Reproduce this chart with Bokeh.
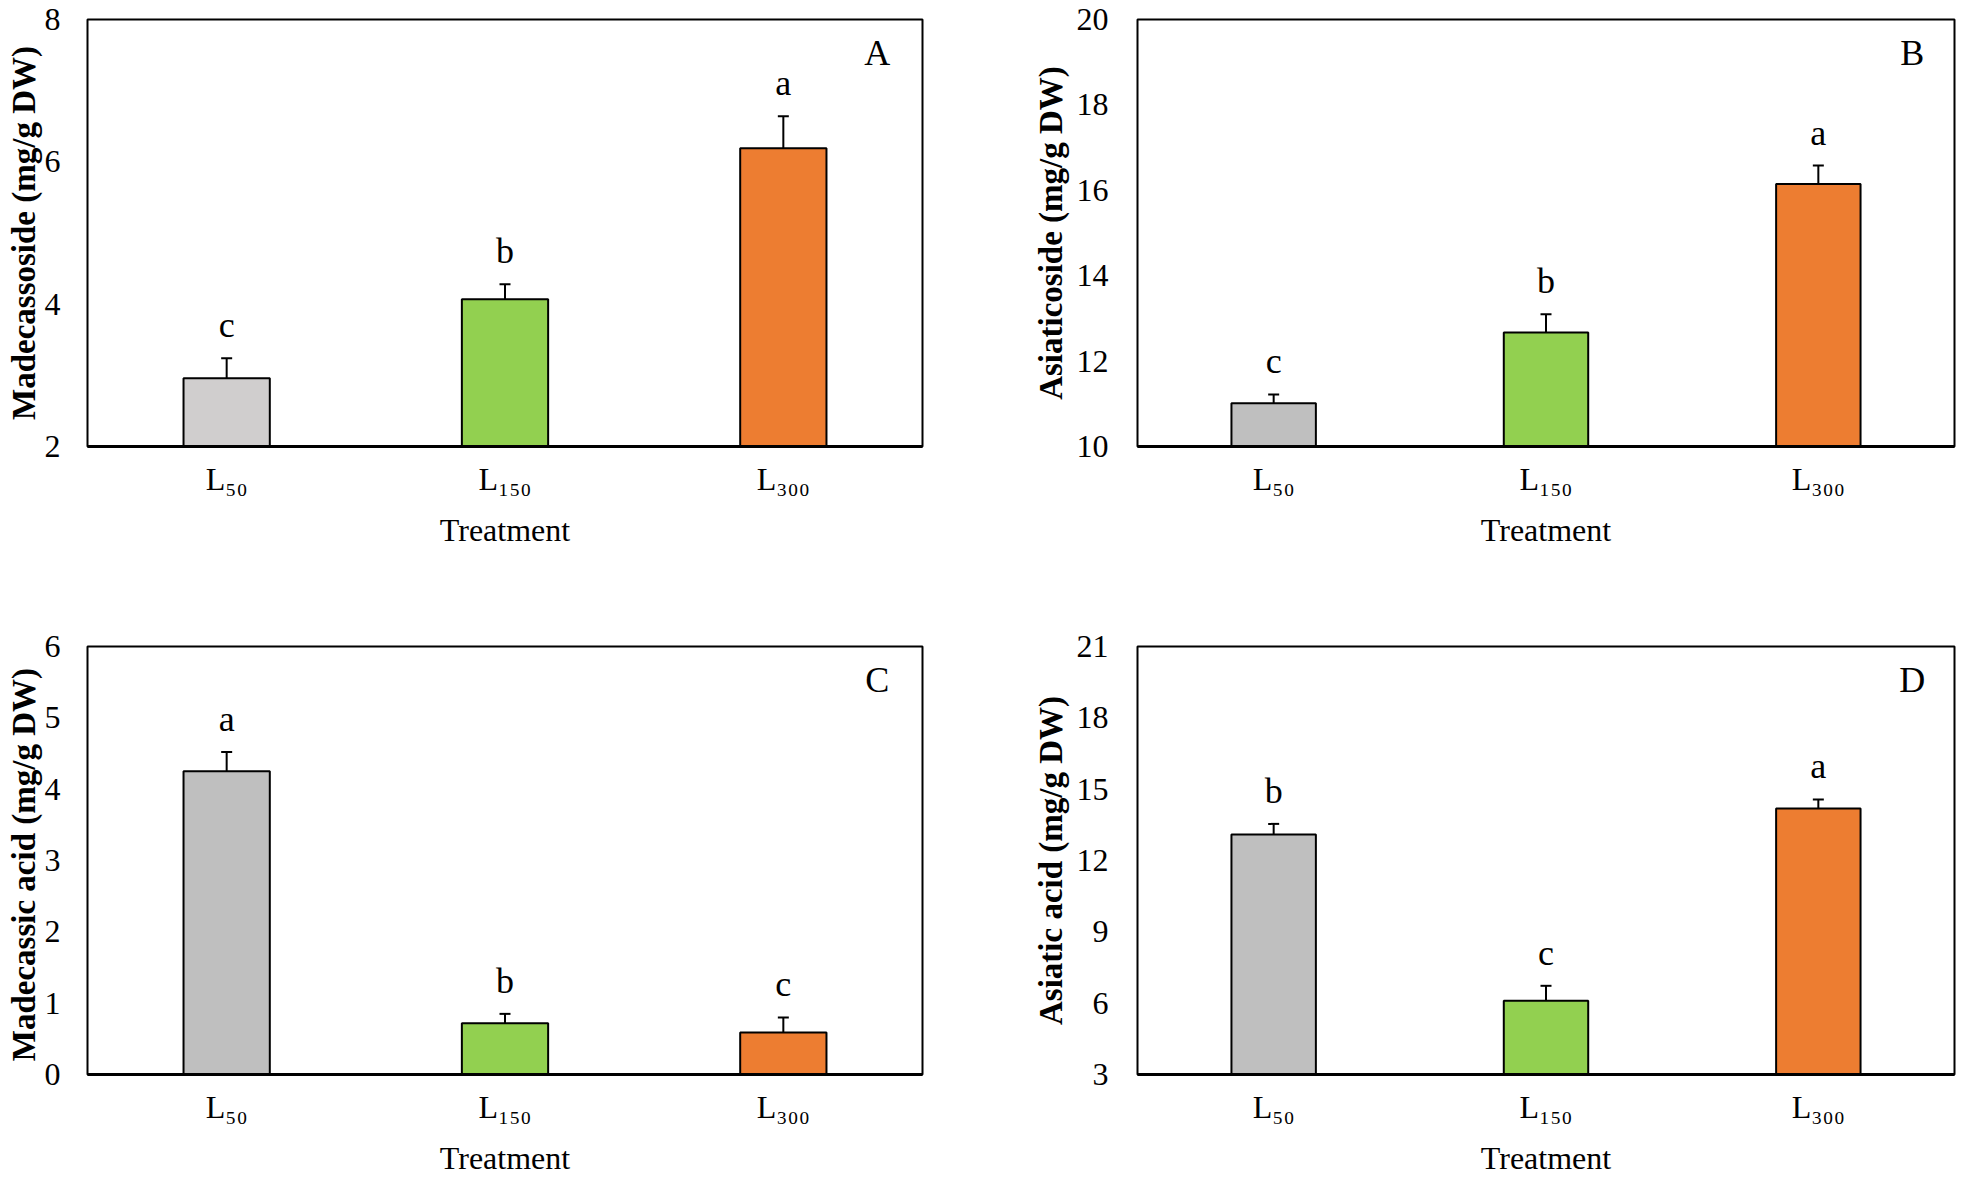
from bokeh.plotting import figure
from bokeh.models import (ColumnDataSource, FactorRange, Range1d, FixedTicker,
                          Whisker, TeeHead)
from bokeh.layouts import gridplot
from bokeh.core.properties import value
from bokeh.embed import file_html
from bokeh.resources import INLINE

# ---- data ----
categories = ["L\u2085\u2080", "L\u2081\u2085\u2080", "L\u2083\u2080\u2080"]

madecassoside = [2.96, 4.07, 6.19]
madecassoside_err = [0.28, 0.21, 0.45]
madecassoside_letters = ["c", "b", "a"]

asiaticoside = [11.01, 12.67, 16.15]
asiaticoside_err = [0.21, 0.43, 0.43]
asiaticoside_letters = ["c", "b", "a"]

madecassic_acid = [4.25, 0.72, 0.59]
madecassic_acid_err = [0.27, 0.13, 0.21]
madecassic_acid_letters = ["a", "b", "c"]

asiatic_acid = [13.09, 6.10, 14.19]
asiatic_acid_err = [0.45, 0.63, 0.38]
asiatic_acid_letters = ["b", "c", "a"]

FONT = "Liberation Serif"
GREEN = "#92D050"
ORANGE = "#ED7D31"


def panel(vals, errs, letters, ylabel, yr, ticks, tag, gray,
          width, height, bl, br, bt, bb, tick_so, lab_so):
    p = figure(x_range=FactorRange(*categories), y_range=Range1d(*yr),
               width=width, height=height, output_backend="svg",
               toolbar_location=None, min_border_left=bl, min_border_right=br,
               min_border_top=bt, min_border_bottom=bb)
    src = ColumnDataSource(dict(
        x=categories, top=vals,
        upper=[v + e for v, e in zip(vals, errs)],
        letter=letters, color=[gray, GREEN, ORANGE]))
    p.vbar(x="x", top="top", bottom=yr[0], width=0.31, source=src,
           fill_color="color", line_color="black", line_width=2)
    p.add_layout(Whisker(source=src, base="x", lower="top", upper="upper",
                         line_color="black", line_width=2, lower_head=None,
                         upper_head=TeeHead(size=11, line_width=2,
                                            line_color="black")))
    p.text(x="x", y="upper", text="letter", source=src, text_align="center",
           text_baseline="alphabetic", y_offset=-33,
           text_font=value(FONT), text_font_size="36px", text_color="black")
    p.text(x=[categories[2]], y=[yr[1]], text=[tag], text_align="center",
           text_baseline="alphabetic", x_offset=94, y_offset=33,
           text_font=value(FONT), text_font_size="36px", text_color="black")

    p.xgrid.visible = False
    p.ygrid.visible = False
    p.outline_line_color = "black"
    p.outline_line_width = 2
    p.outline_line_alpha = 1

    p.yaxis.ticker = FixedTicker(ticks=ticks)
    for ax in (p.xaxis, p.yaxis):
        ax.major_tick_line_color = None
        ax.minor_tick_line_color = None
        ax.major_tick_out = 0
        ax.major_tick_in = 0
        ax.major_label_text_font = FONT
        ax.major_label_text_font_size = "32px"
        ax.major_label_text_color = "black"
        ax.axis_label_text_font = FONT
        ax.axis_label_text_color = "black"
    p.yaxis.axis_line_color = None
    p.xaxis.axis_line_color = "black"
    p.xaxis.axis_line_width = 3
    p.yaxis.major_label_standoff = tick_so
    p.yaxis.axis_label = ylabel
    p.yaxis.axis_label_text_font_style = "bold"
    p.yaxis.axis_label_text_font_size = "33px"
    p.yaxis.axis_label_standoff = lab_so
    p.xaxis.major_label_standoff = 14
    p.xaxis.axis_label = "Treatment"
    p.xaxis.axis_label_text_font_style = "normal"
    p.xaxis.axis_label_text_font_size = "32px"
    p.xaxis.axis_label_standoff = 12
    return p


a = panel(madecassoside, madecassoside_err, madecassoside_letters,
          "Madecassoside (mg/g DW)", (2, 8), [2, 4, 6, 8], "A", "#D0CECE",
          980, 590, 87, 58, 19, 144, 27, 0)
b = panel(asiaticoside, asiaticoside_err, asiaticoside_letters,
          "Asiaticoside (mg/g DW)", (10, 20), [10, 12, 14, 16, 18, 20], "B",
          "#BFBFBF", 981, 590, 157, 7, 19, 144, 29, 5)
c = panel(madecassic_acid, madecassic_acid_err, madecassic_acid_letters,
          "Madecassic acid  (mg/g DW)", (0, 6), [0, 1, 2, 3, 4, 5, 6], "C",
          "#BFBFBF", 980, 588, 87, 58, 56, 102, 27, 0)
d = panel(asiatic_acid, asiatic_acid_err, asiatic_acid_letters,
          "Asiatic acid (mg/g DW)", (3, 21), [3, 6, 9, 12, 15, 18, 21], "D",
          "#BFBFBF", 981, 588, 157, 7, 56, 102, 29, 5)

grid = gridplot([[a, b], [c, d]], toolbar_location=None)

open("out.html", "w").write(file_html(grid, INLINE))
